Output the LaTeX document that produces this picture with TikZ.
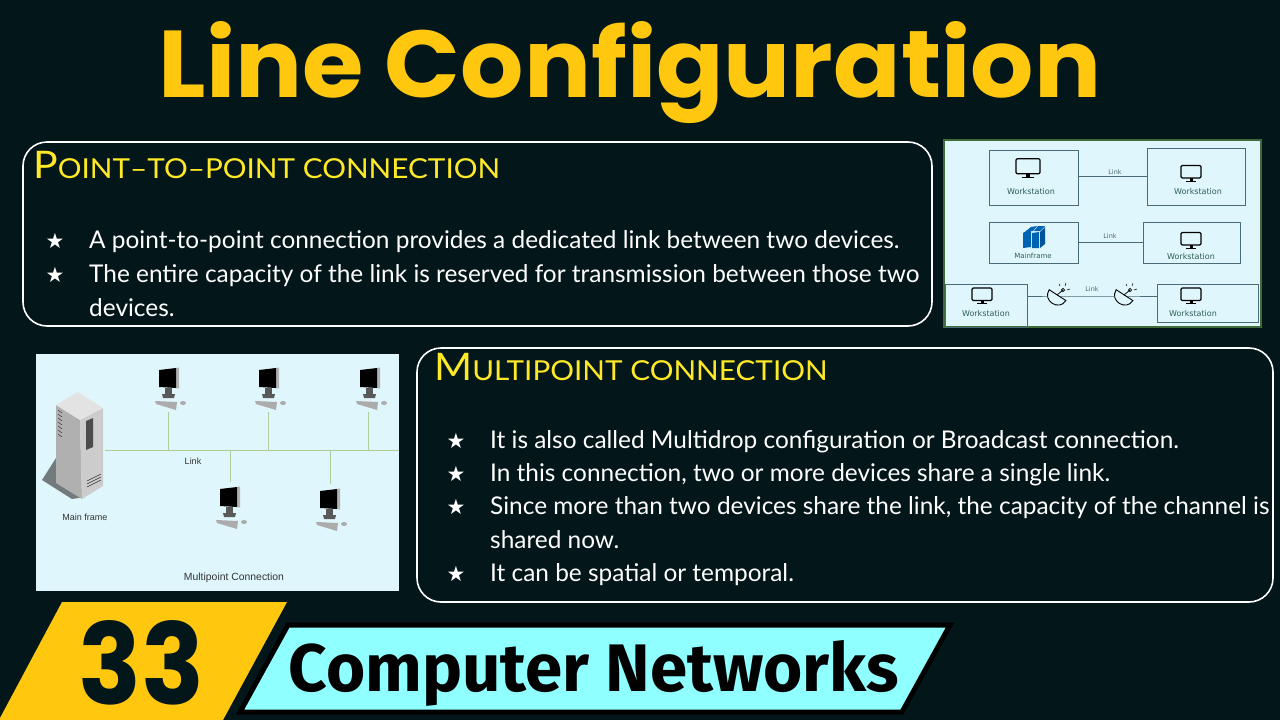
\documentclass[tikz,border=0pt]{standalone}
\usepackage{fontspec}
\setmainfont{Lato}
\newfontfamily\titlefont{Poppins}
\newfontfamily\bandfont{Fira Sans}
\newfontfamily\iconfont{DejaVu Sans}
\newfontfamily\labelfont{Liberation Sans}
\usetikzlibrary{positioning}
\definecolor{bgdark}{HTML}{03171A}
\definecolor{titleyellow}{HTML}{FFC80F}
\definecolor{headyellow}{HTML}{FFE926}
\definecolor{bandcyan}{HTML}{8FFFFF}
\definecolor{panelblue}{HTML}{DFF6FD}
\definecolor{panelgreen}{HTML}{3F6B3A}
\definecolor{boxline}{HTML}{4A6C78}
\definecolor{wsgreen}{HTML}{2F5F55}
\definecolor{buslink}{HTML}{A9CF9C}
\newcommand{\fs}[1]{\fontsize{#1}{#1}\selectfont}
\newcommand{\capletter}[1]{{\fs{38}#1}}
\newcommand{\headline}[1]{\scalebox{1.08}[1]{#1}}

\begin{document}
\begin{tikzpicture}[
        x=1pt, y=-1pt,
        roundbox/.style={draw=white, line width=1.6pt, rounded corners=24pt},
        headtext/.style={anchor=base west, text=headyellow, inner sep=0pt, font=\fs{27.5}},
        bodytext/.style={anchor=base west, text=white, inner sep=0pt, font=\fs{24.4}},
        startext/.style={anchor=center, text=white, inner sep=0pt, font=\iconfont\fs{21}},
        wsbox/.style={draw=boxline, line width=0.8pt, minimum width=#1, inner sep=0pt},
        wstext/.style={text=wsgreen, inner sep=0pt, font=\iconfont\fs{8}},
        linktext/.style={text=boxline, inner sep=0pt, font=\iconfont\fs{6.5}},
        wire/.style={draw=boxline, line width=0.8pt},
        bus/.style={draw=buslink, line width=0.9pt},
        pics/monitor/.style={code={
            \draw[black, line width=1.2pt, rounded corners=1.2pt] (-10,-6.5) rectangle (10,6);
            \fill[black] (-1.5,6) rectangle (1.5,8.5);
            \fill[black] (-5,8.5) rectangle (5,9.7);
        }},
        pics/darkpc/.style={code={
            \fill[gray!60!white] (7,-23) -- (11,-23.5) -- (11,-2.5) -- (7,-3) -- cycle;
            \fill[black] (-9,-21) -- (8,-23) -- (8,-3) -- (-9,-4) -- cycle;
            \fill[gray!70!black] (-3,-3) rectangle (4,3);
            \fill[gray!70!black] (-6,3) -- (7,3) -- (6,7) -- (-5,7) -- cycle;
            \fill[gray!65!white] (-13,10) -- (9,11) -- (8,19) -- (-12,13) -- cycle;
            \fill[gray!65!white] (15,12) ellipse (3 and 2);
        }},
        pics/dish/.style={code={
            \draw[black, fill=panelblue, line width=0.9pt, rotate=-33] (-10,-1) .. controls (-10,12) and (10,12) .. (10,-1) -- cycle;
            \draw[black, line width=0.7pt] (0,-1) -- (6,-6);
            \draw[black, line width=0.7pt] (6,-6) circle (1.6);
            \draw[black, line width=0.5pt] (3,-10) -- (2,-12) (8,-10) -- (9,-13) (10,-6) -- (13,-7);
        }}
    ]
        \useasboundingbox (0,0) rectangle (1280,720);
        \fill[bgdark] (0,0) rectangle (1280,720);

        % Title
        \node[inner sep=0pt, text=titleyellow, anchor=base] (title) at (630,97)
            {\resizebox{942pt}{76pt}{\titlefont\bfseries Line Configuration}};

        % Point-to-point box
        \draw[roundbox] (23,142) rectangle (932,326);
        \node[headtext] (head1) at (33,178) {\headline{\capletter{P}OINT--TO--POINT CONNECTION}};
        \node[startext] (star1) at (55,241) {★};
        \node[bodytext] (line1) at (89,248) {A point-to-point connection provides a dedicated link between two devices.};
        \node[startext] (star2) at (55,275) {★};
        \node[bodytext] (line2) at (89,282) {The entire capacity of the link is reserved for transmission between those two};
        \node[bodytext] (line3) at (89,316) {devices.};

        % Picture of the three links
        \fill[panelblue, draw=panelgreen, line width=2pt] (944,140) rectangle (1261,327);
        \node[wsbox=89pt, minimum height=55pt] (ws1) at (1033.5,177.5) {};
        \node[wsbox=98pt, minimum height=57pt] (ws2) at (1196,176.5) {};
        \node[wsbox=89pt, minimum height=41pt] (main) at (1033.5,242.5) {};
        \node[wsbox=97pt, minimum height=41pt] (ws3) at (1191.5,242.5) {};
        \node[wsbox=82pt, minimum height=43pt] (ws4) at (986,305.5) {};
        \node[wsbox=101pt, minimum height=38pt] (ws5) at (1207.5,303) {};
        \coordinate (dish1) at (1057,296);
        \coordinate (dish2) at (1124,296);

        \draw[wire] (ws1.east |- 0,176) -- (ws2.west |- 0,176);
        \draw[wire] (main) -- (ws3);
        \draw[wire] (ws4.east |- dish1) -- (dish1) -- (dish2) -- (ws5.west |- dish2);

        \pic[scale=1.2] at (1028,166.5) {monitor};
        \pic at (1191,172) {monitor};
        \pic at (1191,239) {monitor};
        \pic at (982,294.5) {monitor};
        \pic at (1191,294.5) {monitor};
        \pic at (dish1) {dish};
        \pic at (dish2) {dish};

        % Mainframe icon
        \fill[blue!45!cyan!70!black] (1023,233) -- (1031,228) -- (1031,247) -- (1023,248) -- cycle;
        \fill[blue!45!cyan!70!black] (1032,233) -- (1039,232) -- (1039,248) -- (1032,248) -- cycle;
        \fill[blue!45!cyan!60!black] (1040,232) -- (1045,227) -- (1045,244) -- (1040,248) -- cycle;
        \fill[blue!45!cyan!70!black] (1031,227) -- (1037,226) -- (1033,231) -- (1026,231) -- cycle;
        \fill[blue!45!cyan!70!black] (1038,226) -- (1045,226) -- (1040,231) -- (1034,231) -- cycle;

        \node[wstext] (ws1t) at (1031,192) {Workstation};
        \node[wstext] (ws2t) at (1198,192) {Workstation};
        \node[wstext, font=\iconfont\fs{7}] (maint) at (1033,255.5) {Mainframe};
        \node[wstext] (ws3t) at (1191,257) {Workstation};
        \node[wstext] (ws4t) at (986,314) {Workstation};
        \node[wstext] (ws5t) at (1193,314) {Workstation};
        \node[linktext] (link1) at (1115,172) {Link};
        \node[linktext] (link2) at (1110,236.5) {Link};
        \node[linktext] (link3) at (1092,289) {Link};

        % Multipoint picture
        \fill[panelblue] (36,354) rectangle (399,591);
        \fill[gray!55!black, opacity=0.7] (56,458) -- (42,480) -- (72,499) -- (85,497) -- cycle;
        \fill[gray!62!white] (56,405) -- (80,420) -- (82,499) -- (56,483) -- cycle;
        \fill[gray!40!white] (80,420) -- (103,408) -- (103,486) -- (82,499) -- cycle;
        \fill[gray!22!white] (78,392) -- (103,408) -- (80,420) -- (56,405) -- cycle;
        \fill[gray!60!black] (86,421) -- (93,418) -- (93,447) -- (86,450) -- cycle;
        \draw[gray!40!black, line width=0.5pt] (87,481) -- (101,474) (87,484) -- (101,477) (87,487) -- (101,480);
        \draw[gray!40!black, line width=0.5pt] (58,410) -- (62,413) (58,414) -- (62,417) (58,418) -- (62,421) (58,422) -- (62,425) (58,426) -- (62,429) (58,430) -- (62,433) (58,434) -- (62,437);

        \coordinate (busL) at (105,450);
        \coordinate (busR) at (399,450);
        \coordinate (pc1) at (168,412);
        \coordinate (pc2) at (268,412);
        \coordinate (pc3) at (368,412);
        \coordinate (pc4) at (230,482);
        \coordinate (pc5) at (330,484);
        \draw[bus] (busL) -- (busR);
        \draw[bus] (pc1) -- (pc1 |- busL);
        \draw[bus] (pc2) -- (pc2 |- busL);
        \draw[bus] (pc3) -- (pc3 |- busL);
        \draw[bus] (pc4) -- (pc4 |- busL);
        \draw[bus] (pc5) -- (pc5 |- busL);

        \pic at (168,391) {darkpc};
        \pic at (268,391) {darkpc};
        \pic at (369,391) {darkpc};
        \pic at (229,510) {darkpc};
        \pic at (329,512) {darkpc};

        \node[text=black!80, inner sep=0pt, font=\labelfont\fs{9}] (linkm) at (193,461) {Link};
        \node[text=black!80, inner sep=0pt, font=\labelfont\fs{9}] (mainm) at (85,517) {Main frame};
        \node[text=black!80, inner sep=0pt, font=\labelfont\fs{10.4}] (multm) at (234,578) {Multipoint Connection};

        % Multipoint box
        \draw[roundbox] (417,348) rectangle (1273,602);
        \node[headtext] (head2) at (434,380) {\headline{\capletter{M}ULTIPOINT CONNECTION}};
        \node[startext] (star3) at (456,441) {★};
        \node[bodytext] (line4) at (490,448) {It is also called Multidrop configuration or Broadcast connection.};
        \node[startext] (star4) at (456,474) {★};
        \node[bodytext] (line5) at (490,481) {In this connection, two or more devices share a single link.};
        \node[startext] (star5) at (456,507) {★};
        \node[bodytext] (line6) at (490,514) {Since more than two devices share the link, the capacity of the channel is};
        \node[bodytext] (line7) at (490,548) {shared now.};
        \node[startext] (star6) at (456,574) {★};
        \node[bodytext] (line8) at (490,581) {It can be spatial or temporal.};

        % Bottom band
        \fill[titleyellow] (62,602) -- (287,602) -- (223,720) -- (0,720) -- (0,718) -- cycle;
        \node[inner sep=0pt, text=bgdark, anchor=base] (num) at (142,704)
            {\resizebox{126pt}{84pt}{\titlefont\bfseries 33}};
        \fill[bandcyan, draw=black, line width=5pt] (288,625) -- (950,625) -- (902,712) -- (240,712) -- cycle;
        \node[inner sep=0pt, text=black, anchor=base] (band) at (594,691)
            {\resizebox{610pt}{!}{\bandfont\bfseries Computer Networks}};
    \end{tikzpicture}
\end{document}
